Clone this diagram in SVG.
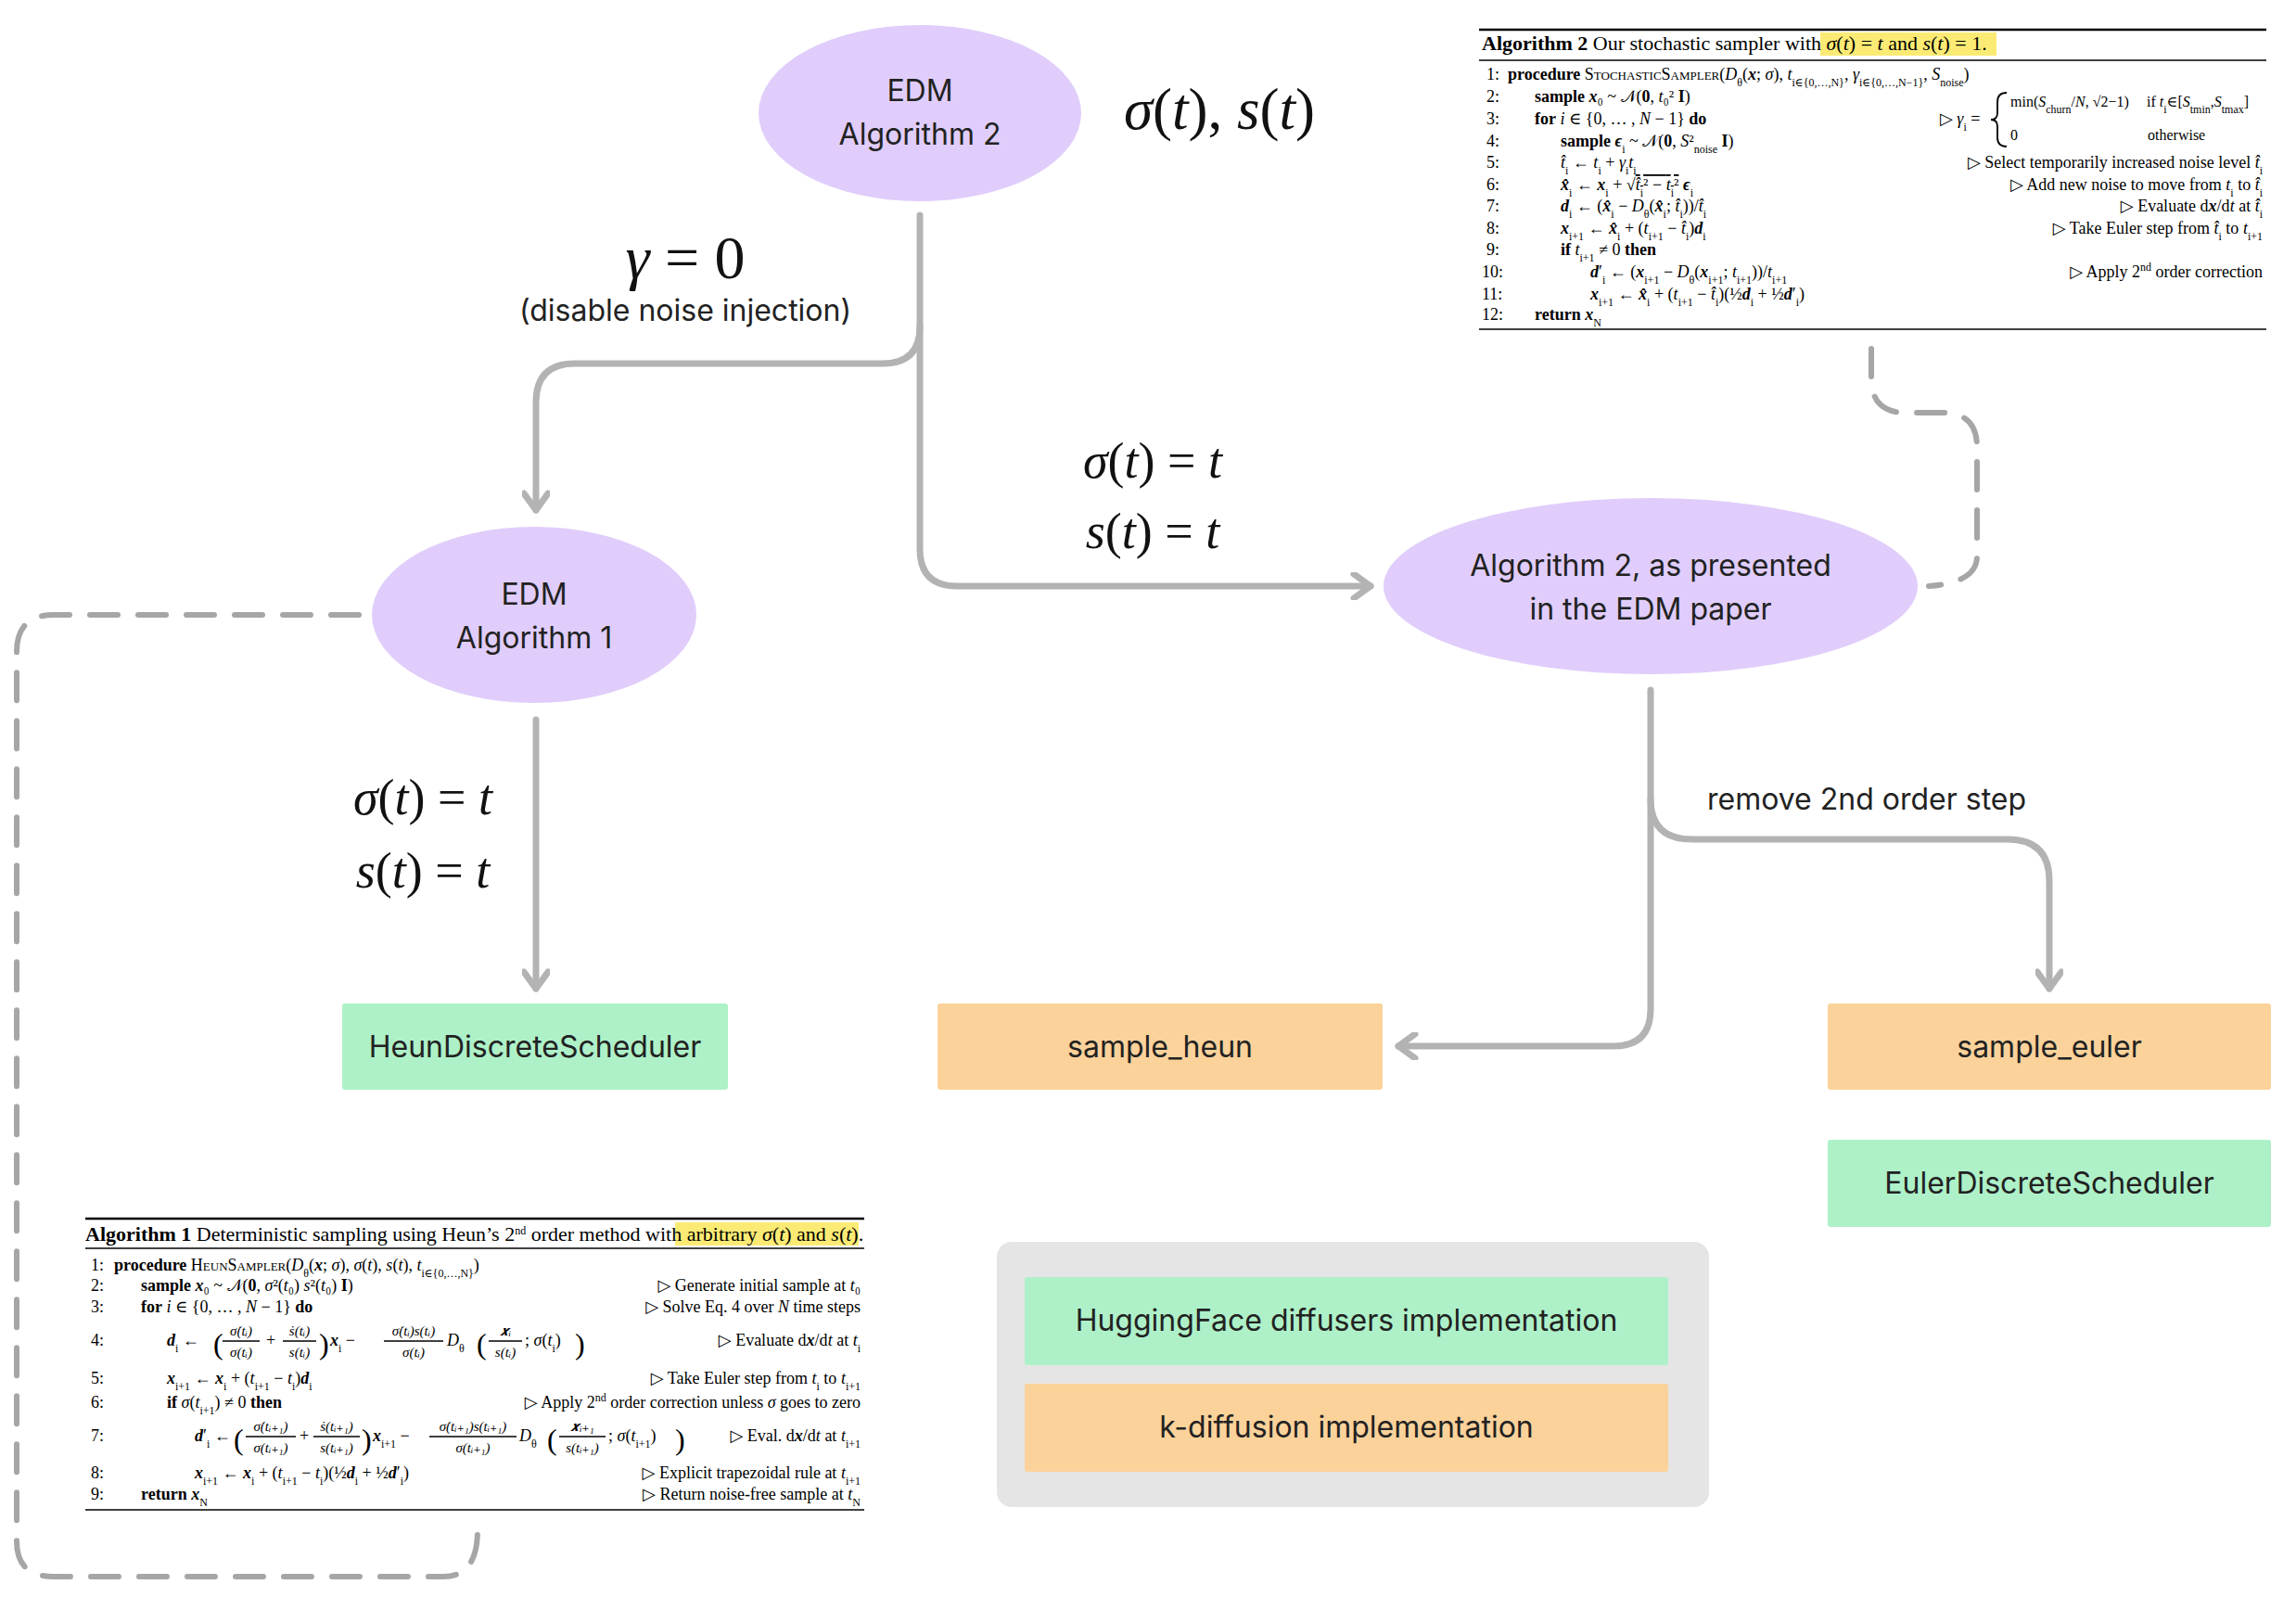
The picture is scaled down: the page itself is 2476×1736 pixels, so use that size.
<svg xmlns="http://www.w3.org/2000/svg" width="2476" height="1736" viewBox="0 0 2476 1736">
<defs>
<marker id="ah" markerWidth="30" markerHeight="30" refX="22" refY="15" orient="auto" markerUnits="userSpaceOnUse">
<path d="M4,2 L22,15 L4,28" fill="none" stroke="#b3b3b3" stroke-width="7" stroke-linecap="round" stroke-linejoin="round"/>
</marker>
</defs>
<style>
.ell{fill:#e0cdfb}
.lbl{font-family:Inter,"Noto Sans",sans-serif;font-size:32px;fill:#222;text-anchor:middle}
.math{font-family:"Liberation Serif",serif;fill:#111;text-anchor:middle}
.i{font-style:italic}
.con{fill:none;stroke:#b3b3b3;stroke-width:7;stroke-linecap:round;stroke-linejoin:round}
.dash{fill:none;stroke:#a6a6a6;stroke-width:6;stroke-dasharray:30 22;stroke-linecap:round}
.green{fill:#aef1c8}
.orange{fill:#fbd29a}
.alg{font-family:"Liberation Serif","DejaVu Serif",serif;font-size:18px;fill:#000}
.b{font-weight:bold}
.bx{font-weight:bold;font-style:italic}
.s{font-size:12px;baseline-shift:sub}
.p{font-size:12px;baseline-shift:super}
.r{text-anchor:end}
.fr{font-size:15px;text-anchor:middle;font-style:italic}
.big{font-size:32px;font-weight:200}
.rule{stroke:#000;stroke-width:1.5}
.rule2{stroke:#000;stroke-width:2.5}
</style>
<rect width="2476" height="1736" fill="#fff"/>

<g id="connectors">
<path class="con" d="M992,232 V352 Q992,392 952,392 H620 Q578,392 578,434 V550" marker-end="url(#ah)"/>
<path class="con" d="M992,352 V592 Q992,632 1032,632 H1478" marker-end="url(#ah)"/>
<path class="con" d="M578,776 V1066" marker-end="url(#ah)"/>
<path class="con" d="M1780,744 V1088 Q1780,1128 1740,1128 H1508" marker-end="url(#ah)"/>
<path class="con" d="M1780,862 Q1780,905 1825,905 H2165 Q2210,905 2210,950 V1066" marker-end="url(#ah)"/>
<path class="dash" d="M387,663 H58 Q18,663 18,703 V1662 Q18,1700 58,1700 H478 Q515,1700 515,1650"/>
<path class="dash" d="M2018,376 V408 Q2018,445 2055,445 H2095 Q2132,445 2132,482 V600 Q2132,628 2080,632"/>
</g>

<g id="label-sigma-s">
<text class="math" x="1315" y="139" font-size="63"><tspan class="i">σ</tspan>(<tspan class="i">t</tspan>), <tspan class="i">s</tspan>(<tspan class="i">t</tspan>)</text>
</g>
<g id="label-gamma">
<text class="math" x="739" y="300" font-size="66"><tspan class="i">γ</tspan> = 0</text>
<text class="lbl" x="739" y="346">(disable noise injection)</text>
</g>
<g id="label-right-sigma">
<text class="math" x="1243" y="515" font-size="54"><tspan class="i">σ</tspan>(<tspan class="i">t</tspan>) = <tspan class="i">t</tspan></text>
<text class="math" x="1243" y="591" font-size="54"><tspan class="i">s</tspan>(<tspan class="i">t</tspan>) = <tspan class="i">t</tspan></text>
</g>
<g id="label-left-sigma">
<text class="math" x="456" y="878" font-size="54"><tspan class="i">σ</tspan>(<tspan class="i">t</tspan>) = <tspan class="i">t</tspan></text>
<text class="math" x="456" y="957" font-size="54"><tspan class="i">s</tspan>(<tspan class="i">t</tspan>) = <tspan class="i">t</tspan></text>
</g>
<g id="label-remove">
<text class="lbl" x="2013" y="873">remove 2nd order step</text>
</g>

<g id="edm-alg2">
<ellipse class="ell" cx="992" cy="122" rx="174" ry="95"/>
<text class="lbl" x="992" y="109">EDM</text>
<text class="lbl" x="992" y="156">Algorithm 2</text>
</g>
<g id="edm-alg1">
<ellipse class="ell" cx="576" cy="663" rx="175" ry="95"/>
<text class="lbl" x="576" y="652">EDM</text>
<text class="lbl" x="576" y="699">Algorithm 1</text>
</g>
<g id="alg2-paper">
<ellipse class="ell" cx="1780" cy="632" rx="288" ry="95"/>
<text class="lbl" x="1780" y="621">Algorithm 2, as presented</text>
<text class="lbl" x="1780" y="668">in the EDM paper</text>
</g>

<g id="heun-scheduler">
<rect class="green" x="369" y="1082" width="416" height="93" rx="3"/>
<text class="lbl" x="577" y="1140">HeunDiscreteScheduler</text>
</g>
<g id="sample-heun">
<rect class="orange" x="1011" y="1082" width="480" height="93" rx="3"/>
<text class="lbl" x="1251" y="1140">sample_heun</text>
</g>
<g id="sample-euler">
<rect class="orange" x="1971" y="1082" width="478" height="93" rx="3"/>
<text class="lbl" x="2210" y="1140">sample_euler</text>
</g>
<g id="euler-scheduler">
<rect class="green" x="1971" y="1229" width="478" height="94" rx="3"/>
<text class="lbl" x="2210" y="1287">EulerDiscreteScheduler</text>
</g>

<g id="legend">
<rect x="1075" y="1339" width="768" height="286" rx="16" fill="#e5e5e5"/>
<rect class="green" x="1105" y="1377" width="694" height="95" rx="3"/>
<text class="lbl" x="1452" y="1435">HuggingFace diffusers implementation</text>
<rect class="orange" x="1105" y="1492" width="694" height="95" rx="3"/>
<text class="lbl" x="1452" y="1550">k-diffusion implementation</text>
</g>

<g id="algorithm2-box" class="alg">
<line class="rule2" x1="1595" y1="32" x2="2444" y2="32"/>
<rect x="1963" y="35" width="190" height="25" fill="#fbeb74"/>
<text x="1598" y="54" font-size="22"><tspan class="b">Algorithm 2</tspan>  Our stochastic sampler with <tspan class="i">σ</tspan>(<tspan class="i">t</tspan>) = <tspan class="i">t</tspan> and <tspan class="i">s</tspan>(<tspan class="i">t</tspan>) = 1.</text>
<line class="rule" x1="1595" y1="65" x2="2444" y2="65"/>
<text x="1603" y="86">1:</text>
<text x="1626" y="86"><tspan class="b">procedure</tspan> <tspan font-variant="small-caps">StochasticSampler</tspan>(<tspan class="i">D</tspan><tspan class="s">θ</tspan>(<tspan class="bx">x</tspan>; <tspan class="i">σ</tspan>), <tspan class="i">t</tspan><tspan class="s">i∈{0,…,N}</tspan>, <tspan class="i">γ</tspan><tspan class="s">i∈{0,…,N−1}</tspan>, <tspan class="i">S</tspan><tspan class="s">noise</tspan>)</text>
<text x="1603" y="110">2:</text>
<text x="1655" y="110"><tspan class="b">sample</tspan> <tspan class="bx">x</tspan>₀ ~ 𝒩(<tspan class="b">0</tspan>, <tspan class="i">t</tspan>₀² <tspan class="b">I</tspan>)</text>
<text x="1603" y="134">3:</text>
<text x="1655" y="134"><tspan class="b">for</tspan> <tspan class="i">i</tspan> ∈ {0, … , <tspan class="i">N</tspan> − 1} <tspan class="b">do</tspan></text>
<text x="2092" y="134">▷ <tspan class="i">γ</tspan><tspan class="s">i</tspan> =</text>
<path d="M2164,100 Q2154,100 2154,110 V122 Q2154,129 2147,129 Q2154,129 2154,136 V148 Q2154,158 2164,158" fill="none" stroke="#000" stroke-width="1.8"/>
<text x="2168" y="115" font-size="16">min(<tspan class="i">S</tspan><tspan class="s">churn</tspan>/<tspan class="i">N</tspan>, √2−1)</text>
<text x="2315" y="115" font-size="16">if <tspan class="i">t</tspan><tspan class="s">i</tspan>∈[<tspan class="i">S</tspan><tspan class="s">tmin</tspan>,<tspan class="i">S</tspan><tspan class="s">tmax</tspan>]</text>
<text x="2168" y="151" font-size="16">0</text>
<text x="2316" y="151" font-size="16">otherwise</text>
<text x="1603" y="158">4:</text>
<text x="1683" y="158"><tspan class="b">sample</tspan> <tspan class="bx">ϵ</tspan><tspan class="s">i</tspan> ~ 𝒩(<tspan class="b">0</tspan>, <tspan class="i">S</tspan>²<tspan class="s">noise</tspan> <tspan class="b">I</tspan>)</text>
<text x="1603" y="181">5:</text>
<text x="1683" y="181"><tspan class="i">t̂</tspan><tspan class="s">i</tspan> ← <tspan class="i">t</tspan><tspan class="s">i</tspan> + <tspan class="i">γ</tspan><tspan class="s">i</tspan><tspan class="i">t</tspan><tspan class="s">i</tspan></text>
<text class="r" x="2440" y="181">▷ Select temporarily increased noise level <tspan class="i">t̂</tspan><tspan class="s">i</tspan></text>
<text x="1603" y="205">6:</text>
<text x="1683" y="205"><tspan class="bx">x̂</tspan><tspan class="s">i</tspan> ← <tspan class="bx">x</tspan><tspan class="s">i</tspan> + √<tspan text-decoration="overline"><tspan class="i">t̂</tspan><tspan class="s">i</tspan>² − <tspan class="i">t</tspan><tspan class="s">i</tspan>²</tspan> <tspan class="bx">ϵ</tspan><tspan class="s">i</tspan></text>
<text class="r" x="2440" y="205">▷ Add new noise to move from <tspan class="i">t</tspan><tspan class="s">i</tspan> to <tspan class="i">t̂</tspan><tspan class="s">i</tspan></text>
<text x="1603" y="228">7:</text>
<text x="1683" y="228"><tspan class="bx">d</tspan><tspan class="s">i</tspan> ← (<tspan class="bx">x̂</tspan><tspan class="s">i</tspan> − <tspan class="i">D</tspan><tspan class="s">θ</tspan>(<tspan class="bx">x̂</tspan><tspan class="s">i</tspan>; <tspan class="i">t̂</tspan><tspan class="s">i</tspan>))/<tspan class="i">t̂</tspan><tspan class="s">i</tspan></text>
<text class="r" x="2440" y="228">▷ Evaluate d<tspan class="bx">x</tspan>/d<tspan class="i">t</tspan> at <tspan class="i">t̂</tspan><tspan class="s">i</tspan></text>
<text x="1603" y="252">8:</text>
<text x="1683" y="252"><tspan class="bx">x</tspan><tspan class="s">i+1</tspan> ← <tspan class="bx">x̂</tspan><tspan class="s">i</tspan> + (<tspan class="i">t</tspan><tspan class="s">i+1</tspan> − <tspan class="i">t̂</tspan><tspan class="s">i</tspan>)<tspan class="bx">d</tspan><tspan class="s">i</tspan></text>
<text class="r" x="2440" y="252">▷ Take Euler step from <tspan class="i">t̂</tspan><tspan class="s">i</tspan> to <tspan class="i">t</tspan><tspan class="s">i+1</tspan></text>
<text x="1603" y="275">9:</text>
<text x="1683" y="275"><tspan class="b">if</tspan> <tspan class="i">t</tspan><tspan class="s">i+1</tspan> ≠ 0 <tspan class="b">then</tspan></text>
<text x="1598" y="299">10:</text>
<text x="1715" y="299"><tspan class="bx">d</tspan>′<tspan class="s">i</tspan> ← (<tspan class="bx">x</tspan><tspan class="s">i+1</tspan> − <tspan class="i">D</tspan><tspan class="s">θ</tspan>(<tspan class="bx">x</tspan><tspan class="s">i+1</tspan>; <tspan class="i">t</tspan><tspan class="s">i+1</tspan>))/<tspan class="i">t</tspan><tspan class="s">i+1</tspan></text>
<text class="r" x="2440" y="299">▷ Apply 2<tspan class="p">nd</tspan> order correction</text>
<text x="1598" y="323">11:</text>
<text x="1715" y="323"><tspan class="bx">x</tspan><tspan class="s">i+1</tspan> ← <tspan class="bx">x̂</tspan><tspan class="s">i</tspan> + (<tspan class="i">t</tspan><tspan class="s">i+1</tspan> − <tspan class="i">t̂</tspan><tspan class="s">i</tspan>)(½<tspan class="bx">d</tspan><tspan class="s">i</tspan> + ½<tspan class="bx">d</tspan>′<tspan class="s">i</tspan>)</text>
<text x="1598" y="345">12:</text>
<text x="1655" y="345"><tspan class="b">return</tspan> <tspan class="bx">x</tspan><tspan class="s">N</tspan></text>
<line class="rule" x1="1595" y1="355" x2="2444" y2="355"/>
</g>

<g id="algorithm1-box" class="alg">
<line class="rule2" x1="92" y1="1314" x2="932" y2="1314"/>
<rect x="728" y="1318" width="198" height="25" fill="#fbeb74"/>
<text x="92" y="1338" font-size="22"><tspan class="b">Algorithm 1</tspan>  Deterministic sampling using Heun’s 2<tspan class="p">nd</tspan> order method with arbitrary <tspan class="i">σ</tspan>(<tspan class="i">t</tspan>) and <tspan class="i">s</tspan>(<tspan class="i">t</tspan>).</text>
<line class="rule" x1="92" y1="1346" x2="932" y2="1346"/>
<text x="98" y="1370">1:</text>
<text x="123" y="1370"><tspan class="b">procedure</tspan> <tspan font-variant="small-caps">HeunSampler</tspan>(<tspan class="i">D</tspan><tspan class="s">θ</tspan>(<tspan class="bx">x</tspan>; <tspan class="i">σ</tspan>), <tspan class="i">σ</tspan>(<tspan class="i">t</tspan>), <tspan class="i">s</tspan>(<tspan class="i">t</tspan>), <tspan class="i">t</tspan><tspan class="s">i∈{0,…,N}</tspan>)</text>
<text x="98" y="1392">2:</text>
<text x="152" y="1392"><tspan class="b">sample</tspan> <tspan class="bx">x</tspan>₀ ~ 𝒩(<tspan class="b">0</tspan>, <tspan class="i">σ</tspan>²(<tspan class="i">t</tspan>₀) <tspan class="i">s</tspan>²(<tspan class="i">t</tspan>₀) <tspan class="b">I</tspan>)</text>
<text class="r" x="928" y="1392">▷ Generate initial sample at <tspan class="i">t</tspan>₀</text>
<text x="98" y="1415">3:</text>
<text x="152" y="1415"><tspan class="b">for</tspan> <tspan class="i">i</tspan> ∈ {0, … , <tspan class="i">N</tspan> − 1} <tspan class="b">do</tspan></text>
<text class="r" x="928" y="1415">▷ Solve Eq. 4 over <tspan class="i">N</tspan> time steps</text>

<text x="98" y="1451">4:</text>
<text x="180" y="1451"><tspan class="bx">d</tspan><tspan class="s">i</tspan> ←</text>
<text x="230" y="1460" class="big">(</text>
<text class="fr" x="260" y="1440">σ̇(tᵢ)</text><line class="rule" x1="240" y1="1446" x2="280" y2="1446"/><text class="fr" x="260" y="1463">σ(tᵢ)</text>
<text x="287" y="1451">+</text>
<text class="fr" x="323" y="1440">ṡ(tᵢ)</text><line class="rule" x1="305" y1="1446" x2="341" y2="1446"/><text class="fr" x="323" y="1463">s(tᵢ)</text>
<text x="344" y="1460" class="big">)</text>
<text x="356" y="1451"><tspan class="bx">x</tspan><tspan class="s">i</tspan> −</text>
<text class="fr" x="446" y="1440">σ̇(tᵢ)s(tᵢ)</text><line class="rule" x1="414" y1="1446" x2="478" y2="1446"/><text class="fr" x="446" y="1463">σ(tᵢ)</text>
<text x="482" y="1451"><tspan class="i">D</tspan><tspan class="s">θ</tspan></text>
<text x="514" y="1460" class="big">(</text>
<text class="fr" x="545" y="1440">𝒙ᵢ</text><line class="rule" x1="527" y1="1446" x2="563" y2="1446"/><text class="fr" x="545" y="1463">s(tᵢ)</text>
<text x="566" y="1451">; <tspan class="i">σ</tspan>(<tspan class="i">t</tspan><tspan class="s">i</tspan>)</text>
<text x="620" y="1460" class="big">)</text>
<text class="r" x="928" y="1451">▷ Evaluate d<tspan class="bx">x</tspan>/d<tspan class="i">t</tspan> at <tspan class="i">t</tspan><tspan class="s">i</tspan></text>

<text x="98" y="1492">5:</text>
<text x="180" y="1492"><tspan class="bx">x</tspan><tspan class="s">i+1</tspan> ← <tspan class="bx">x</tspan><tspan class="s">i</tspan> + (<tspan class="i">t</tspan><tspan class="s">i+1</tspan> − <tspan class="i">t</tspan><tspan class="s">i</tspan>)<tspan class="bx">d</tspan><tspan class="s">i</tspan></text>
<text class="r" x="928" y="1492">▷ Take Euler step from <tspan class="i">t</tspan><tspan class="s">i</tspan> to <tspan class="i">t</tspan><tspan class="s">i+1</tspan></text>
<text x="98" y="1518">6:</text>
<text x="180" y="1518"><tspan class="b">if</tspan> <tspan class="i">σ</tspan>(<tspan class="i">t</tspan><tspan class="s">i+1</tspan>) ≠ 0 <tspan class="b">then</tspan></text>
<text class="r" x="928" y="1518">▷ Apply 2<tspan class="p">nd</tspan> order correction unless <tspan class="i">σ</tspan> goes to zero</text>

<text x="98" y="1554">7:</text>
<text x="210" y="1554"><tspan class="bx">d</tspan>′<tspan class="s">i</tspan> ←</text>
<text x="252" y="1563" class="big">(</text>
<text class="fr" x="292" y="1543">σ̇(tᵢ₊₁)</text><line class="rule" x1="265" y1="1549" x2="319" y2="1549"/><text class="fr" x="292" y="1566">σ(tᵢ₊₁)</text>
<text x="323" y="1554">+</text>
<text class="fr" x="363" y="1543">ṡ(tᵢ₊₁)</text><line class="rule" x1="338" y1="1549" x2="388" y2="1549"/><text class="fr" x="363" y="1566">s(tᵢ₊₁)</text>
<text x="390" y="1563" class="big">)</text>
<text x="402" y="1554"><tspan class="bx">x</tspan><tspan class="s">i+1</tspan> −</text>
<text class="fr" x="510" y="1543">σ̇(tᵢ₊₁)s(tᵢ₊₁)</text><line class="rule" x1="463" y1="1549" x2="557" y2="1549"/><text class="fr" x="510" y="1566">σ(tᵢ₊₁)</text>
<text x="560" y="1554"><tspan class="i">D</tspan><tspan class="s">θ</tspan></text>
<text x="590" y="1563" class="big">(</text>
<text class="fr" x="628" y="1543">𝒙ᵢ₊₁</text><line class="rule" x1="603" y1="1549" x2="653" y2="1549"/><text class="fr" x="628" y="1566">s(tᵢ₊₁)</text>
<text x="656" y="1554">; <tspan class="i">σ</tspan>(<tspan class="i">t</tspan><tspan class="s">i+1</tspan>)</text>
<text x="728" y="1563" class="big">)</text>
<text class="r" x="928" y="1554">▷ Eval. d<tspan class="bx">x</tspan>/d<tspan class="i">t</tspan> at <tspan class="i">t</tspan><tspan class="s">i+1</tspan></text>

<text x="98" y="1594">8:</text>
<text x="210" y="1594"><tspan class="bx">x</tspan><tspan class="s">i+1</tspan> ← <tspan class="bx">x</tspan><tspan class="s">i</tspan> + (<tspan class="i">t</tspan><tspan class="s">i+1</tspan> − <tspan class="i">t</tspan><tspan class="s">i</tspan>)(½<tspan class="bx">d</tspan><tspan class="s">i</tspan> + ½<tspan class="bx">d</tspan>′<tspan class="s">i</tspan>)</text>
<text class="r" x="928" y="1594">▷ Explicit trapezoidal rule at <tspan class="i">t</tspan><tspan class="s">i+1</tspan></text>
<text x="98" y="1617">9:</text>
<text x="152" y="1617"><tspan class="b">return</tspan> <tspan class="bx">x</tspan><tspan class="s">N</tspan></text>
<text class="r" x="928" y="1617">▷ Return noise-free sample at <tspan class="i">t</tspan><tspan class="s">N</tspan></text>
<line class="rule" x1="92" y1="1628" x2="932" y2="1628"/>
</g>
</svg>
